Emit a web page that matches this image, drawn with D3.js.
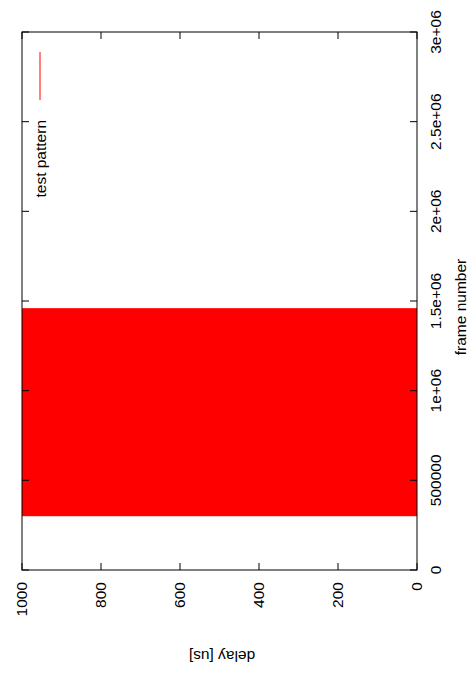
<!DOCTYPE html>
<html><head><meta charset="utf-8">
<script src="https://cdn.jsdelivr.net/npm/d3@7"></script>
<style>body{margin:0;background:#fff}text{font-family:"Liberation Sans",Arial,sans-serif;font-size:15.5px}</style>
</head><body>
<svg id="c" width="474" height="677"></svg>
<script>
// test pattern: dense band of frames, delay spanning the whole range
var bandFrames = [300000, 1460000];
var bandDelay = [0, 1000];
var xTicks = [0, 500000, 1000000, 1500000, 2000000, 2500000, 3000000];
var xTickLabels = ["0", "500000", "1e+06", "1.5e+06", "2e+06", "2.5e+06", "3e+06"];
var yTicks = [0, 200, 400, 600, 800, 1000];

var svg = d3.select("#c");
// whole plot is drawn landscape then turned
var g = svg.append("g").attr("transform", "translate(0,677) rotate(-90)");
var x = d3.scaleLinear().domain([0, 3000000]).range([107, 645]);
var y = d3.scaleLinear().domain([0, 1000]).range([417, 22]);

g.append("rect").attr("x", x(bandFrames[0])).attr("width", x(bandFrames[1]) - x(bandFrames[0]))
  .attr("y", y(bandDelay[1])).attr("height", y(bandDelay[0]) - y(bandDelay[1])).attr("fill", "#ff0000");

g.append("rect").attr("x", 107).attr("y", 22).attr("width", 538).attr("height", 395)
  .attr("fill", "none").attr("stroke", "#000");

xTicks.forEach(function(t, i){
  g.append("line").attr("x1", x(t)).attr("x2", x(t)).attr("y1", 417).attr("y2", 410).attr("stroke", "#000");
  g.append("line").attr("x1", x(t)).attr("x2", x(t)).attr("y1", 22).attr("y2", 29).attr("stroke", "#000");
  g.append("text").attr("x", x(t)).attr("y", 441).attr("text-anchor", "middle").text(xTickLabels[i]);
});
yTicks.forEach(function(t){
  g.append("line").attr("x1", 107).attr("x2", 114).attr("y1", y(t)).attr("y2", y(t)).attr("stroke", "#000");
  g.append("line").attr("x1", 645).attr("x2", 638).attr("y1", y(t)).attr("y2", y(t)).attr("stroke", "#000");
  g.append("text").attr("x", 95).attr("y", y(t) + 5).attr("text-anchor", "end").text(t);
});

g.append("text").attr("x", 370).attr("y", 466).attr("text-anchor", "middle").text("frame number");
g.append("text").attr("transform", "translate(26,222) rotate(-90)").attr("text-anchor", "middle").text("delay [us]");

g.append("text").attr("x", 557).attr("y", 46).attr("text-anchor", "end").text("test pattern");
g.append("line").attr("x1", 577).attr("x2", 625).attr("y1", 40).attr("y2", 40).attr("stroke", "#ff0000");
</script>
</body></html>
